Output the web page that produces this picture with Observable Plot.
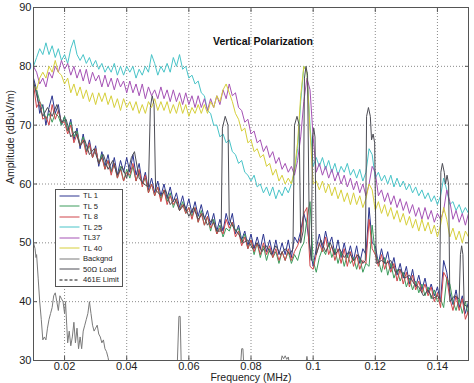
<!DOCTYPE html>
<html><head><meta charset="utf-8">
<script src="https://cdn.jsdelivr.net/npm/d3@7"></script>
<script src="https://cdn.jsdelivr.net/npm/@observablehq/plot@0.6"></script>
<style>
html,body{margin:0;padding:0;background:#fff;}
#wrap{position:relative;width:474px;height:383px;overflow:hidden;font-family:"Liberation Sans",Arial,sans-serif;}
#legend{position:absolute;left:55px;top:189px;width:68px;height:98px;border:1px solid #555;background:#fff;box-sizing:border-box;}
.row{position:absolute;left:0;height:10px;display:flex;align-items:center;font-size:7.6px;color:#222;white-space:nowrap;}
.row svg{display:block;margin-right:2px;}
</style></head><body><div id="wrap"></div>
<script>
const freq = [
0.010,0.011,0.012,0.013,0.014,0.015,0.016,0.017,0.018,0.019,
0.020,0.021,0.022,0.023,0.024,0.025,0.026,0.027,0.028,0.029,
0.030,0.031,0.032,0.033,0.034,0.035,0.036,0.037,0.038,0.039,
0.040,0.041,0.042,0.043,0.044,0.045,0.046,0.047,0.048,0.049,
0.050,0.051,0.052,0.053,0.054,0.055,0.056,0.057,0.058,0.059,
0.060,0.061,0.062,0.063,0.064,0.065,0.066,0.067,0.068,0.069,
0.070,0.071,0.072,0.073,0.074,0.075,0.076,0.077,0.078,0.079,
0.080,0.081,0.082,0.083,0.084,0.085,0.086,0.087,0.088,0.089,
0.090,0.091,0.092,0.093,0.094,0.095,0.096,0.097,0.098,0.099,
0.100,0.101,0.102,0.103,0.104,0.105,0.106,0.107,0.108,0.109,
0.110,0.111,0.112,0.113,0.114,0.115,0.116,0.117,0.118,0.119,
0.120,0.121,0.122,0.123,0.124,0.125,0.126,0.127,0.128,0.129,
0.130,0.131,0.132,0.133,0.134,0.135,0.136,0.137,0.138,0.139,
0.140,0.141,0.142,0.143,0.144,0.145,0.146,0.147,0.148,0.149,
0.150];

const tl1 = [
78,76,72,73.5,70,73,75,72,73.5,70,
71.5,69,71,67.5,69.5,66,68.5,65.5,67.5,64.5,
66.5,63,65.5,63,65,62,64.5,61.5,64,62,
64.5,62,65,61.5,63.5,60,62,59,61,58.5,
60.5,58,60,57.5,59.5,57,58.5,56,58,55.5,
57.5,55,57,54.5,56.5,54,55.5,53,55,52,
54,52,55,53,55,51.5,53,50.5,52,49.5,
51.5,49,51,49,51.5,48.5,50.5,48,50.5,48,
50,48,50.5,47.5,51,50,52,55,53,49,
46,49,51.5,49,52,49.5,51,48,50.5,47.5,
50,47.5,49.5,47,49.5,46.5,49,48,56,50,
49.5,46.5,49,46.5,48.5,45.5,47.5,44.5,46.5,44,
46,43,45.5,42.5,44.5,42,44,41.5,43,41,
42.5,40,47,45,41.5,39.5,42,39,41,38,
40];

const tl5 = [
77,76,74,73,71,72,70.5,72,71.5,70,
71.5,69,70.5,68,69,66.5,68,65.5,66.5,64.5,
66,63.5,65,62.5,64,62,63.5,61,63,60.5,
62.5,61,63,60.5,62,60,61,58.5,60,58,
59.5,57.5,59,57,58.5,56,57.5,55.5,57,55,
56,54.5,56,53.5,55.5,53,54.5,52,54,51.5,
53,51,52.5,52,53.5,52,52.5,50,51.5,49,
50.5,48,50,47.5,49.5,47,49,47.5,48.5,46.5,
48.5,47,48.5,46.5,48,47,49,50,54,57,
47,45,47.5,49,48,50,47.5,49,46.5,48.5,
46,48,46.5,47.5,45.5,47.5,45,46.5,46,53,
48,47,45,47.5,44.5,46.5,44,45.5,43.5,45,
42.5,44,42,43.5,41.5,43,41,42.5,40.5,42,
40,40.5,39,44,43,40,38.5,40.5,38,40,
37.5];

const tl8 = [
77,73,74,71,71.5,70,73.5,71,72.5,70.5,
70.5,68.5,70,67,68.5,66.5,67.5,65,67,64.5,
66,63.5,64.5,62.5,64,61.5,63.5,61,62.5,60.5,
62,61.5,63.5,60.5,62.5,59.5,61.5,58.5,60,58,
59.5,57,59,56.5,58,56.5,57.5,55.5,56.5,55,
56,54,56,53.5,55,53,54.5,52.5,53.5,51.5,
52.5,51.5,54,52.5,53.5,51,52,49.5,51,49,
50.5,48.5,50,48,50,48,49.5,47.5,49,47,
48.5,47,49,47,48.5,49.5,51,55,56,46,
45.5,48,50,48.5,51,48,49.5,47,49,46.5,
49,46,48.5,46,48,45.5,47,46.5,54,49,
48,46,48,45.5,47,45,46.5,43.5,45.5,43,
45,42.5,44.5,42,43.5,41.5,43,41,42.5,40,
41.5,39,45,44,40.5,38.5,41,38.5,40.5,37,
38.5];

const tl25 = [
80,81.5,83,82,84,82,83.5,81.5,83,81,
82,80.5,83,84.5,82,81,82,80.5,81.5,80,
81,79.5,80.5,79,80,79,80.5,78.5,80,78.5,
80,79,80,78,79.5,78.5,80,79,82,80.5,
78.5,80,79,80.5,79,81.5,80,82,79.5,80,
78,78.5,77,77.5,75.5,75,72.5,72,70,70,
68,68.5,67,67.5,65.5,65,63.5,64,62,61.5,
60.5,61.5,59.5,60,58.5,59.5,58,59.5,57.5,59,
58,59.5,58.5,60,62,66,74,80,79,70,
63,64.5,63,64.5,62.5,64,62,63.5,61.5,63,
62,63.5,61.5,62.5,61,62.5,60.5,62,66,65,
61,62,60.5,61.5,60,61.5,59.5,61,59.5,60.5,
59,60,58.5,59.5,58,59,57.5,58.5,57,58,
56.5,58,61,59,56.5,57,55.5,56.5,55,56,
55];

const tl37 = [
80,79,77,78,76.5,79,78,80,79,81,
79.5,80.5,78.5,80,78,79.5,77.5,79.5,77,79,
77.5,78.5,76.5,78.5,76.5,78,76,78,76.5,77.5,
75.5,77.5,75.5,77,75,77,74.5,76.5,75,76,
74.5,76.5,74.5,76,74,76,74,75.5,73.5,75.5,
73.5,75,73,75,73,74.5,72.5,74.5,73,75,
73.5,76,74.5,77,75,75.5,73,72.5,70.5,71,
68.5,69,67,67.5,65.5,66.5,64.5,65.5,63.5,64.5,
62.5,63.5,62,63,61.5,64,68,74,78,76,
68,62,63.5,61.5,63,61,62.5,60.5,62,60,
61.5,59.5,61,59,60.5,58.5,60,58,60,63,
62,58,59,57,58.5,56.5,58,56,57.5,55.5,
57,55,56.5,54.5,56,54,56,54,55.5,53.5,
55,54,55.5,59,57,54,55.5,53.5,55,53,
55];

const tl40 = [
77,76,78,79,78,80,79,81,79,78.5,
77,78,75.5,77,75,76.5,74.5,76,74,75.5,
73.5,75.5,74,75.5,73.5,75,73,74.5,72.5,74.5,
73,74,72.5,74,72,73.5,72,74,73,74.5,
72.5,74,72.5,74,72,73.5,72,74,72,73.5,
71.5,73,72,73.5,72,73.5,72,74,73,75,
74,76,77,75.5,74,72,71,69,69.5,67,
67.5,65.5,66,64.5,65,63,63.5,61.5,62.5,60.5,
61.5,60,61,60,62.5,67,75,80,79,69,
60,60.5,59,60.5,58.5,60,58,59.5,57.5,59,
57,58.5,56.5,58.5,56.5,58,56,57.5,60,59,
55.5,57,55,56.5,54.5,56,54,55.5,53.5,55,
53,54.5,52.5,54,52,54,52,53.5,51.5,53,
51,53,56,54,51,52.5,50.5,52,50,52,
51];

const bgFreq = [0.0100,0.0105,0.0108,0.0110,0.0115,0.0120,0.0125,0.0130,0.0135,0.0140,0.0145,0.0150,0.0155,0.0160,0.0165,0.0170,0.0175,0.0180,0.0185,0.0190,0.0195,0.0200,0.0203,0.0207,0.0210,0.0215,0.0220,0.0225,0.0230,0.0235,0.0240,0.0245,0.0250,0.0255,0.0260,0.0265,0.0270,0.0275,0.0280,0.0285,0.0290,0.0295,0.0300,0.0305,0.0310,0.0315,0.0320,0.0325,0.0330,0.0335,0.0340,0.0345,0.0350,0.0560,0.0568,0.0572,0.0576,0.0765,0.0770,0.0774,0.0778,0.0890,0.0900,0.0905,0.0910,0.0915,0.0920,0.0925,0.0975,0.0980,0.0985,0.1500];
const bgAmp = [50,49,47.5,48,44,40,37,33.5,34,33.5,35.5,37,38,39,41,41.5,40,38.5,41,40.5,40,38,40,36,33,35,32.5,34,36.5,33,35.5,32,34,32,35,36,37,38,40,38,36,35,35.5,36,34.5,34,33,33.5,32,31.5,30.5,29,27,25,37.5,37.5,28,28,32,32,28,28,30.8,30.3,30.8,30.2,30.6,29,29,30.7,29,27];

const loadFreq = [
0.0100,0.0115,0.0130,0.0145,0.0160,0.0175,0.0190,0.0205,0.0220,0.0235,
0.0250,0.0265,0.0280,0.0295,0.0310,0.0325,0.0340,0.0355,0.0370,0.0385,
0.0400,0.0415,0.0425,0.0440,0.0455,0.0470,
0.0476,0.0482,0.0488,
0.0493,0.0510,0.0525,0.0540,0.0555,0.0570,0.0585,0.0600,0.0615,0.0630,0.0645,0.0660,0.0675,0.0690,0.0704,
0.0708,0.0717,0.0726,
0.0730,0.0745,0.0760,0.0775,0.0790,0.0805,0.0820,0.0835,0.0850,0.0865,0.0880,0.0895,0.0910,0.0925,0.0935,
0.0940,0.0948,0.0955,
0.0960,0.0968,
0.0972,0.0977,0.0982,
0.0988,0.0994,
0.0998,0.1002,0.1006,
0.1010,0.1025,0.1040,0.1055,0.1070,0.1085,0.1100,0.1115,0.1130,0.1145,0.1160,0.1168,
0.1172,0.1178,0.1184,
0.1188,0.1193,0.1198,
0.1203,0.1220,0.1235,0.1250,0.1265,0.1280,0.1295,0.1310,0.1325,0.1340,0.1355,0.1370,0.1385,0.1400,0.1407,
0.1411,0.1416,0.1422,
0.1426,0.1431,0.1436,
0.1440,0.1455,0.1470,
0.1474,0.1478,0.1482,
0.1486,0.1500];
const loadAmp = [
77.5,74,71.5,73,71.5,73.5,70.5,71,68,69,
66.5,67.5,65,66,63.5,65,62.5,64,61.5,63,
61,64.5,65.5,61,60,59.5,
73,75,73.5,
59,58,59,56.5,57.5,55.5,56.5,54.5,56,54,55,53,54,52,52,
69.5,71.5,70,
54,52.5,51.5,50,50.5,49,50,48.5,49.5,48,49.5,48,49,48,49,
70,71.5,70,
50,52,
78,80,78.5,
50,47,
68,69.5,68,
48,50.5,48.5,50,48,49,47.5,48.5,47,48,46.5,47,
71.5,73,71.5,
67.5,68.5,67,
46.5,47,46.5,47,45,45.5,44,44.5,43,42.5,41,42,40.5,41,40.5,
62,63.5,62,
60,61.5,60,
40,41,40.5,
48,49.5,48,
39.5,39];

const seriesNames = ["TL 1","TL 5","TL 8","TL 25","TL37","TL 40","Backgnd","50\u03A9 Load","461E Limit"];
const seriesColors = ["#2c3590","#3c9c5c","#d0454a","#48c4c8","#a552b5","#d6cf3a","#7a7a7a","#4d4d55","#111111"];
const xTicks = [0.02,0.04,0.06,0.08,0.1,0.12,0.14];
const xTickLabels = ["0.02","0.04","0.06","0.08","0.1","0.12","0.14"];
const yTicks = [30,40,50,60,70,80,90];

const gridSeries = [tl1, tl5, tl8, tl25, tl37, tl40];
const pairs = (xs, ys) => xs.map((x, i) => [x, ys[i]]);

const lineMarks = gridSeries.map((s, k) =>
  Plot.line(pairs(freq, s), {stroke: seriesColors[k], strokeWidth: 1, clip: true}));
lineMarks.push(Plot.line(pairs(bgFreq, bgAmp), {stroke: seriesColors[6], strokeWidth: 1, clip: true}));
lineMarks.push(Plot.line(pairs(loadFreq, loadAmp), {stroke: seriesColors[7], strokeWidth: 1, clip: true}));

const chart = Plot.plot({
  width: 474, height: 383,
  marginLeft: 33, marginRight: 6, marginTop: 7, marginBottom: 23,
  style: {fontFamily: "'Liberation Sans', Arial, sans-serif", fontSize: "11px", background: "white", color: "#222"},
  x: {domain: [0.01, 0.15]},
  y: {domain: [30, 90]},
  marks: [
    Plot.gridX(xTicks, {stroke: "#8a8a8a", strokeOpacity: 1, strokeDasharray: "1,2"}),
    Plot.gridY(yTicks.slice(1, -1), {stroke: "#8a8a8a", strokeOpacity: 1, strokeDasharray: "1,2"}),
    ...lineMarks,
    Plot.frame({stroke: "#555"}),
    Plot.axisX(xTicks, {anchor: "bottom", tickSize: -4, fill: "none", stroke: "#555", label: null}),
    Plot.axisX(xTicks, {anchor: "top", tickSize: -4, fill: "none", stroke: "#555", label: null}),
    Plot.axisY(yTicks, {anchor: "left", tickSize: -4, fill: "none", stroke: "#555", label: null}),
    Plot.axisY(yTicks, {anchor: "right", tickSize: -4, fill: "none", stroke: "#555", label: null}),
    Plot.axisX(xTicks, {anchor: "bottom", tickSize: 0, tickPadding: 2, tickFormat: d => xTickLabels[xTicks.indexOf(d)], label: null, fill: "#222"}),
    Plot.axisY(yTicks, {anchor: "left", tickSize: 0, tickPadding: 2, label: null, fill: "#222"}),
    Plot.text(["Vertical Polarization"], {frameAnchor: "top", dx: 12, dy: 34, lineAnchor: "middle", fontWeight: "bold", fontSize: 10.5, fill: "#111"}),
    Plot.text(["Amplitude (dBuV/m)"], {frameAnchor: "left", dx: -23, rotate: -90, fontSize: 10.5, fill: "#222"}),
    Plot.text(["Frequency (MHz)"], {frameAnchor: "bottom", dy: 17.5, lineAnchor: "middle", fontSize: 10.5, fill: "#222"})
  ]
});

const wrap = document.getElementById("wrap");
wrap.appendChild(chart);

const legend = document.createElement("div");
legend.id = "legend";
seriesNames.forEach((name, i) => {
  const row = document.createElement("div");
  row.className = "row";
  row.style.top = (0.5 + 10.5 * i) + "px";
  const dash = i === 8 ? ' stroke-dasharray="3,2"' : '';
  row.innerHTML = `<svg width="25" height="10"><line x1="3.5" y1="5" x2="23.5" y2="5" stroke="${seriesColors[i]}" stroke-width="1"${dash}/></svg><span>${name}</span>`;
  legend.appendChild(row);
});
wrap.appendChild(legend);
</script></body></html>
